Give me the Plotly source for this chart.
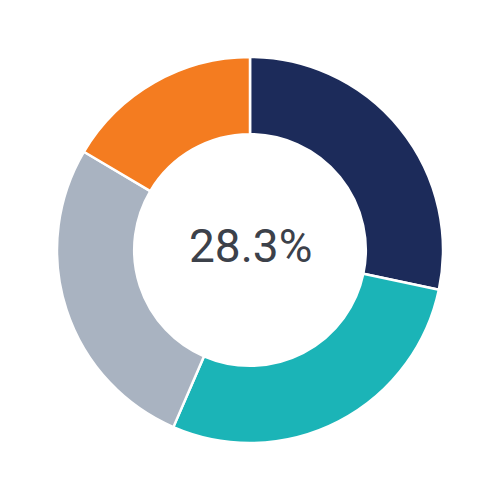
import plotly.graph_objects as go

labels = ["A", "B", "C", "D"]
values = [28.3, 28.2, 27.0, 16.5]
colors = ["#1c2b5a", "#1bb4b7", "#a9b3c1", "#f47c20"]
center_text = "28.3%"

fig = go.Figure(go.Pie(
    labels=labels,
    values=values,
    hole=0.6,
    sort=False,
    direction="clockwise",
    rotation=0,
    marker=dict(colors=colors, line=dict(color="white", width=2.5)),
    textinfo="none",
    hoverinfo="label+percent",
))
fig.update_layout(
    width=500, height=500,
    margin=dict(l=49, r=65, t=49, b=65),
    showlegend=False,
    paper_bgcolor="white",
    plot_bgcolor="white",
    annotations=[dict(text=center_text, x=0.5, y=0.51, xref="paper", yref="paper",
                      showarrow=False,
                      font=dict(family="Roboto", size=46, color="#3c414a"))],
)
fig.write_html("out.html")
